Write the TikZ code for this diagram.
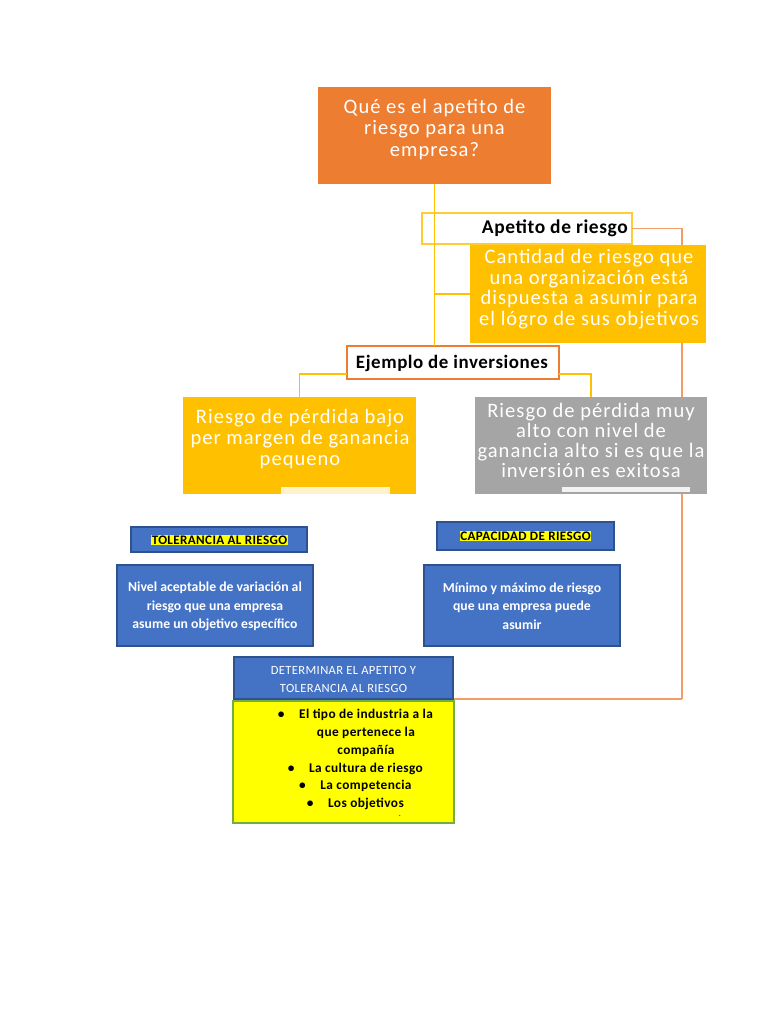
\documentclass[tikz,border=0pt]{standalone}
\usepackage{fontspec}
\setmainfont{Carlito}
\newfontfamily\widefont{Carlito}[LetterSpace=5]
\newfontfamily\midfont{Carlito}[LetterSpace=3]
\usetikzlibrary{fit}
\definecolor{orng}{HTML}{ED7D31}
\definecolor{gold}{HTML}{FFC000}
\definecolor{grayb}{HTML}{A5A5A5}
\definecolor{blueb}{HTML}{4472C4}
\definecolor{blued}{HTML}{2F528F}
\definecolor{greenb}{HTML}{70AD47}
\definecolor{ylw}{HTML}{FFFF00}
\definecolor{cream}{HTML}{FFF2CC}
\definecolor{lgray}{HTML}{F2F2F2}
\newcommand{\hl}[1]{{\setlength{\fboxsep}{0.6pt}\colorbox{ylw}{#1}}}
\newcommand{\bul}{\llap{\textbullet\hspace{11pt}}}
\begin{document}
\begin{tikzpicture}[x=0.75pt,y=-0.75pt,
  bx/.style={inner sep=0pt,outer sep=0pt},
  txt/.style={align=center,inner sep=0pt},
  conn/.style={draw=gold,line width=1.1pt},
  thinline/.style={draw=orng!75,line width=0.8pt},
  bigtxt/.style={txt,text=white,font=\widefont\fontsize{15.4}{16.1}\selectfont},
  bluebox/.style={bx,fill=blueb,draw=blued,line width=0.8pt},
  smalltxt/.style={txt,font=\bfseries\fontsize{10.3}{13.8}\selectfont}]
\useasboundingbox (0,0) rectangle (768,1024);
\fill[white] (0,0) rectangle (768,1024);

% boxes (shapes)
\node[bx,fill=orng,fit={(318,87) (551,184)}] (q) {};
\node[bx,fill=white,draw=gold!80,line width=0.8pt,fit={(422,213) (632,244)}] (ap) {};
\node[bx,fill=white,draw=orng,line width=0.9pt,fit={(347,346) (559,379)}] (ej) {};

% connectors behind
\coordinate (cr) at (682,0);
\draw[thinline] (ap.east) -| (cr |- 0,699) coordinate (crb);
\draw[thinline] (crb) -- (453,699) coordinate (detcorner);
\draw[conn] (q.south) -- (q.south |- ej.north);
\coordinate (ejL) at (347,374);
\coordinate (ejR) at (559,374);

\node[bx,fill=gold,fit={(470,245) (706,343)}] (cant) {};
\draw[conn] (q.south |- cant.west) -- (cant.west);

\node[bx,fill=gold,fit={(183,397) (416,494)}] (lb) {};
\node[bx,fill=grayb,fit={(475,397) (707,494)}] (gb) {};
\draw[conn] (ejL) -| (lb.north);
\draw[conn] (ejR) -| (gb.north);
\node[bx,fill=cream,fit={(281,487) (390,494)}] (lbbar) {};
\node[bx,fill=lgray,fit={(562,487) (690,492)}] (gbbar) {};

\node[bluebox,fit={(131,527) (307,552)}] (tol) {};
\node[bluebox,fit={(437,522) (614,550)}] (cap) {};
\node[bluebox,fit={(117,565) (313,646)}] (niv) {};
\node[bluebox,fit={(424,565) (620,646)}] (mnm) {};
\node[bluebox,fit={(234,657) (453,699)}] (det) {};
\node[bx,fill=ylw,draw=greenb,line width=0.9pt,fit={(233,701) (454,823)}] (lst) {};

% texts
\node[bigtxt] (qt) at (434.5,129.5) {Qué es el apetito de\\riesgo para una\\empresa?};
\node[txt,anchor=east,font=\midfont\bfseries\fontsize{14.6}{16}\selectfont] (apt) at (628,228.5) {Apetito de riesgo};
\node[bigtxt,font=\widefont\fontsize{15.4}{15.4}\selectfont] (cantt) at (589,289) {Cantidad de riesgo que\\una organización está\\dispuesta a asumir para\\el lógro de sus objetivos};
\node[txt,font=\midfont\bfseries\fontsize{14.2}{15}\selectfont] (ejt) at (452,363) {Ejemplo de inversiones};
\node[bigtxt,font=\widefont\fontsize{15.4}{15.8}\selectfont] (lbt) at (300,439) {Riesgo de pérdida bajo\\per margen de ganancia\\pequeno};
\node[bigtxt,font=\widefont\fontsize{15.4}{15}\selectfont] (gbt) at (591,440) {Riesgo de pérdida muy\\alto con nivel de\\ganancia alto si es que la\\inversión es exitosa};

\node[txt,font=\midfont\bfseries\fontsize{9.8}{10}\selectfont] (tolt) at (219.5,540) {\hl{TOLERANCIA AL RIESGO}};
\node[txt,font=\midfont\bfseries\fontsize{9.8}{10}\selectfont] (capt) at (525.5,536) {\hl{CAPACIDAD DE RIESGO}};
\node[smalltxt,text=white] (nivt) at (215,606.5) {Nivel aceptable de variación al\\riesgo que una empresa\\asume un objetivo específico};
\node[smalltxt,text=white] (mnmt) at (522,606) {Mínimo y máximo de riesgo\\que una empresa puede\\asumir};
\node[txt,text=white,font=\midfont\fontsize{9.4}{12.8}\selectfont] (dett) at (343.5,679.5) {DETERMINAR EL APETITO Y\\TOLERANCIA AL RIESGO};
\node[txt,font=\midfont\bfseries\fontsize{10}{13.4}\selectfont] (lstt) at (366,759.5) {\bul El tipo de industria a la\\que pertenece la\\compañía\\\bul La cultura de riesgo\\\bul La competencia\\\bul Los objetivos};
\node[txt,font=\fontsize{6}{6}\selectfont] (dot) at (400,816) {.};
\end{tikzpicture}
\end{document}
